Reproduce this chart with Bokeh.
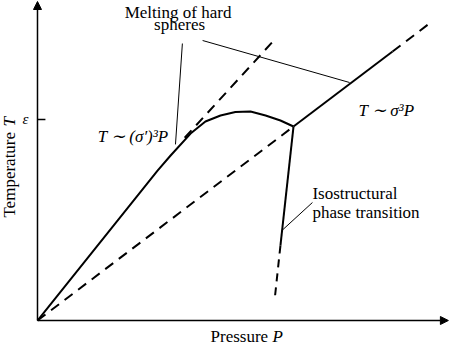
from math import pi
from bokeh.plotting import figure
from bokeh.models import Range1d, Label, Arrow, NormalHead
from bokeh.embed import file_html
from bokeh.resources import INLINE

# ---- data (pressure P in units of triple-point pressure, temperature T in units of epsilon) ----
# low-pressure branch and melting curve up to the triple point
melt_P = [0.0, 0.469, 0.520, 0.598, 0.656, 0.715, 0.773, 0.832, 0.891, 0.949, 1.0]
melt_T = [0.0, 0.746, 0.821, 0.930, 0.990, 1.020, 1.037, 1.040, 1.020, 0.995, 0.965]

# hard-sphere melting line T ~ sigma^3 P
hs_low_P = [0.0, 1.0]
hs_low_T = [0.0, 0.965]
hs_mid_P = [1.0, 1.387]
hs_mid_T = [0.965, 1.338]
hs_high_P = [1.387, 1.527]
hs_high_T = [1.338, 1.474]

# hard-sphere melting line T ~ (sigma')^3 P (extension)
hs2_P = [0.575, 0.934]
hs2_T = [0.909, 1.408]

# isostructural phase transition line
iso_P = [1.0, 0.949]
iso_T = [0.965, 0.373]
iso_ext_P = [0.949, 0.926]
iso_ext_T = [0.373, 0.0995]

# leader lines
lead1_P = [0.566, 0.539]
lead1_T = [1.378, 0.876]
lead2_P = [0.645, 1.219]
lead2_T = [1.393, 1.184]
lead3_P = [1.074, 0.955]
lead3_T = [0.587, 0.448]

eps_tick_P = [0.0, 0.031]
eps_tick_T = [1.0, 1.0]

FONT = "Liberation Serif"
FS = "17px"
DASH = "10 7"

p = figure(width=450, height=347, output_backend="svg", toolbar_location=None,
           x_range=Range1d(-0.1445, 1.6133), y_range=Range1d(-0.1343, 1.592),
           x_axis_type=None, y_axis_type=None, min_border=0)
p.grid.visible = False
p.outline_line_color = None
p.background_fill_color = "white"
p.border_fill_color = "white"

# axes with arrows
p.add_layout(Arrow(end=NormalHead(size=8, fill_color="black", line_color="black"),
                   x_start=0, y_start=0, x_end=0, y_end=1.587,
                   line_width=1.5, line_color="black"))
p.add_layout(Arrow(end=NormalHead(size=8, fill_color="black", line_color="black"),
                   x_start=0, y_start=0, x_end=1.605, y_end=0,
                   line_width=1.5, line_color="black"))
p.line(eps_tick_P, eps_tick_T, line_width=1.3, line_color="black")

# curves
p.line(melt_P, melt_T, line_width=2, line_color="black")
p.line(hs_low_P, hs_low_T, line_width=2, line_color="black", line_dash=DASH)
p.line(hs_mid_P, hs_mid_T, line_width=2, line_color="black")
p.line(hs_high_P, hs_high_T, line_width=2, line_color="black", line_dash=DASH)
p.line(hs2_P, hs2_T, line_width=2, line_color="black", line_dash=DASH)
p.line(iso_P, iso_T, line_width=2, line_color="black")
p.line(iso_ext_P, iso_ext_T, line_width=2, line_color="black", line_dash="8 6")

# leaders
for lp, lt in [(lead1_P, lead1_T), (lead2_P, lead2_T), (lead3_P, lead3_T)]:
    p.line(lp, lt, line_width=1, line_color="black")

def lab(x, y, text, align="left", baseline="alphabetic", style="normal", angle=0, size=FS):
    p.add_layout(Label(x=x, y=y, text=text, text_align=align, text_baseline=baseline,
                       text_font=FONT, text_font_size=size, text_font_style=style,
                       text_color="black", angle=angle))

lab(0.549, 1.532, "Melting of hard", align="center")
lab(0.555, 1.473, "spheres", align="center")
lab(0.512, 0.915, "T ∼ (σ′)³P", align="right", style="italic")
lab(1.254, 1.045, "T ∼ σ³P", style="italic")
lab(1.074, 0.632, "Isostructural")
lab(1.074, 0.537, "phase transition")
lab(0.676, -0.0796, "Pressure")
lab(0.918, -0.0796, "P", style="italic")
lab(-0.109, 0.512, "Temperature", angle=pi/2)
lab(-0.109, 0.965, "T", angle=pi/2, style="italic")
lab(-0.047, 1.0, "ε", align="center", baseline="middle", style="italic", size="15px")

open("out.html", "w").write(file_html(p, INLINE))
